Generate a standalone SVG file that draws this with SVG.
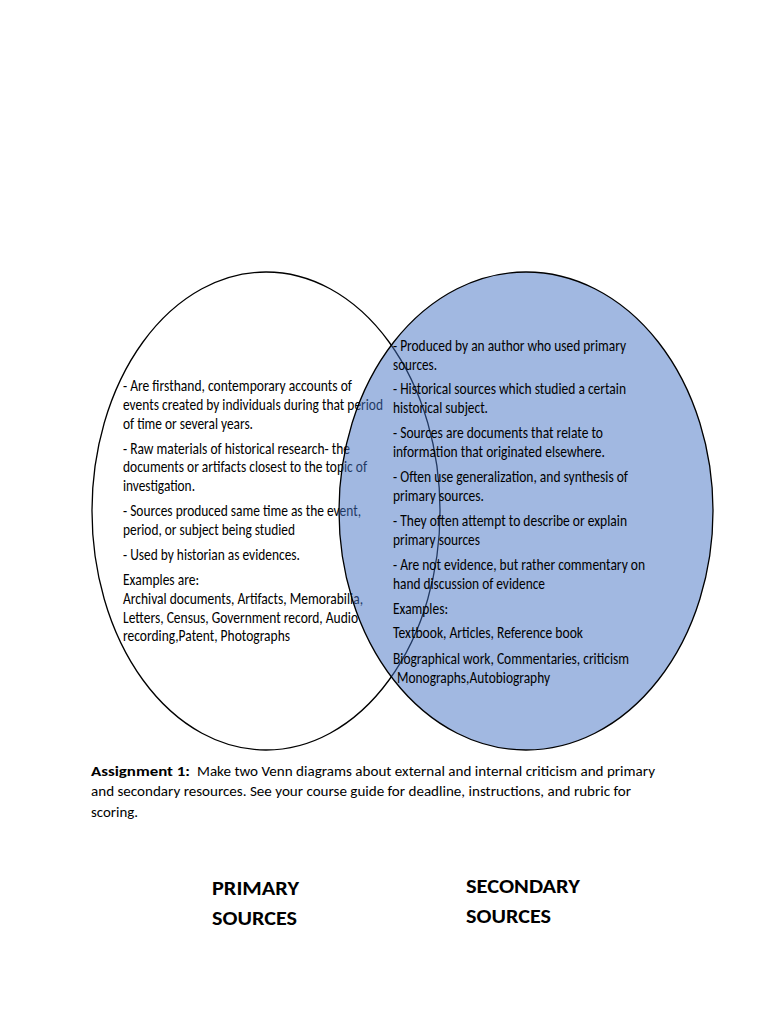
<svg xmlns="http://www.w3.org/2000/svg" width="768" height="1024" viewBox="0 0 768 1024">
<style>
.t{font-family:Carlito,Lato,"Liberation Sans",sans-serif;font-size:15.5px;fill:#000}
.a{font-family:Carlito,Lato,"Liberation Sans",sans-serif;font-size:14px;fill:#000}
.b{font-family:Carlito,Lato,"Liberation Sans",sans-serif;font-size:20.5px;font-weight:bold;fill:#000}
</style>
<rect width="768" height="1024" fill="#fff"/>
<g id="primary">
<ellipse cx="266" cy="511" rx="174" ry="239" fill="#fff" stroke="#000" stroke-width="1.3"/>
<text class="t" x="123" y="391" textLength="229" lengthAdjust="spacingAndGlyphs">- Are firsthand, contemporary accounts of</text>
<text class="t" x="123" y="410" textLength="260" lengthAdjust="spacingAndGlyphs">events created by individuals during that period</text>
<text class="t" x="123" y="429" textLength="130" lengthAdjust="spacingAndGlyphs">of time or several years.</text>
<text class="t" x="123" y="454" textLength="227" lengthAdjust="spacingAndGlyphs">- Raw materials of historical research- the</text>
<text class="t" x="123" y="472" textLength="244" lengthAdjust="spacingAndGlyphs">documents or artifacts closest to the topic of</text>
<text class="t" x="123" y="491" textLength="72" lengthAdjust="spacingAndGlyphs">investigation.</text>
<text class="t" x="123" y="516" textLength="238" lengthAdjust="spacingAndGlyphs">- Sources produced same time as the event,</text>
<text class="t" x="123" y="535" textLength="172" lengthAdjust="spacingAndGlyphs">period, or subject being studied</text>
<text class="t" x="123" y="560" textLength="177" lengthAdjust="spacingAndGlyphs">- Used by historian as evidences.</text>
<text class="t" x="123" y="585" textLength="76" lengthAdjust="spacingAndGlyphs">Examples are:</text>
<text class="t" x="123" y="604" textLength="240" lengthAdjust="spacingAndGlyphs">Archival documents, Artifacts, Memorabilia,</text>
<text class="t" x="123" y="623" textLength="235" lengthAdjust="spacingAndGlyphs">Letters, Census, Government record, Audio</text>
<text class="t" x="123" y="641" textLength="167" lengthAdjust="spacingAndGlyphs">recording,Patent, Photographs</text>
</g>
<g id="secondary">
<ellipse cx="526" cy="511" rx="187" ry="239" fill="#4472c4" fill-opacity="0.5" stroke="#000" stroke-width="1.3"/>
<text class="t" x="393" y="351" textLength="233" lengthAdjust="spacingAndGlyphs">- Produced by an author who used primary</text>
<text class="t" x="393" y="370" textLength="44" lengthAdjust="spacingAndGlyphs">sources.</text>
<text class="t" x="393" y="394" textLength="233" lengthAdjust="spacingAndGlyphs">- Historical sources which studied a certain</text>
<text class="t" x="393" y="413" textLength="95" lengthAdjust="spacingAndGlyphs">historical subject.</text>
<text class="t" x="393" y="438" textLength="210" lengthAdjust="spacingAndGlyphs">- Sources are documents that relate to</text>
<text class="t" x="393" y="457" textLength="212" lengthAdjust="spacingAndGlyphs">information that originated elsewhere.</text>
<text class="t" x="393" y="482" textLength="235" lengthAdjust="spacingAndGlyphs">- Often use generalization, and synthesis of</text>
<text class="t" x="393" y="501" textLength="91" lengthAdjust="spacingAndGlyphs">primary sources.</text>
<text class="t" x="393" y="526" textLength="234" lengthAdjust="spacingAndGlyphs">- They often attempt to describe or explain</text>
<text class="t" x="393" y="545" textLength="87" lengthAdjust="spacingAndGlyphs">primary sources</text>
<text class="t" x="393" y="570" textLength="252" lengthAdjust="spacingAndGlyphs">- Are not evidence, but rather commentary on</text>
<text class="t" x="393" y="589" textLength="152" lengthAdjust="spacingAndGlyphs">hand discussion of evidence</text>
<text class="t" x="393" y="614" textLength="55" lengthAdjust="spacingAndGlyphs">Examples:</text>
<text class="t" x="393" y="638" textLength="190" lengthAdjust="spacingAndGlyphs">Textbook, Articles, Reference book</text>
<text class="t" x="393" y="664" textLength="236" lengthAdjust="spacingAndGlyphs">Biographical work, Commentaries, criticism</text>
<text class="t" x="397" y="683" textLength="153" lengthAdjust="spacingAndGlyphs">Monographs,Autobiography</text>
</g>
<g id="assignment">
<text class="a" x="91" y="776" font-weight="bold" font-size="15px" textLength="99" lengthAdjust="spacingAndGlyphs">Assignment 1:</text>
<text class="a" x="197" y="776" textLength="458" lengthAdjust="spacingAndGlyphs">Make two Venn diagrams about external and internal criticism and primary</text>
<text class="a" x="91" y="796" textLength="540" lengthAdjust="spacingAndGlyphs">and secondary resources. See your course guide for deadline, instructions, and rubric for</text>
<text class="a" x="91" y="817" textLength="47" lengthAdjust="spacingAndGlyphs">scoring.</text>
</g>
<g id="labels">
<text class="b" x="212" y="895" textLength="87" lengthAdjust="spacingAndGlyphs">PRIMARY</text>
<text class="b" x="212" y="925" textLength="85" lengthAdjust="spacingAndGlyphs">SOURCES</text>
<text class="b" x="466" y="893" textLength="114" lengthAdjust="spacingAndGlyphs">SECONDARY</text>
<text class="b" x="466" y="923" textLength="85" lengthAdjust="spacingAndGlyphs">SOURCES</text>
</g>
</svg>
